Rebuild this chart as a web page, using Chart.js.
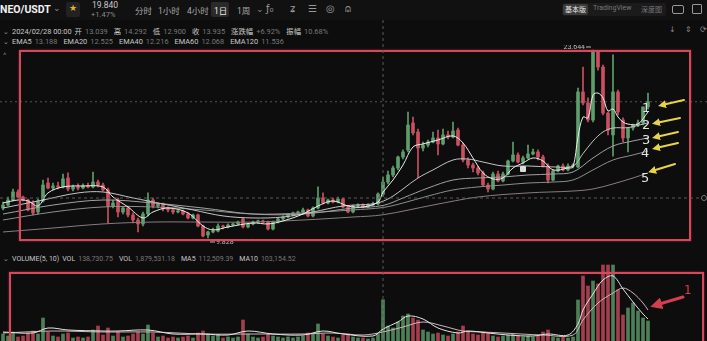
<!DOCTYPE html>
<html lang="zh-CN">
<head>
<meta charset="UTF-8">
<meta name="viewport" content="width=device-width, initial-scale=1.0">
<title>NEO/USDT 1日</title>
<script src="https://cdn.jsdelivr.net/npm/chart.js"></script>
<style>
    body {
        margin: 0;
        width: 707px;
        height: 341px;
        overflow: hidden;
        background: #0d0d0e;
        color: #ccc;
        font-family: Roboto, "Noto Sans CJK SC", sans-serif;
        position: relative;
    }
    .abs { position: absolute; white-space: nowrap; }
    #toolbar { position: absolute; left: 0; top: 0; width: 707px; height: 20px; background: #111112; }
    .tf { position: absolute; top: 4px; font-size: 8.5px; color: #a8a8a8; }
    .icon { position: absolute; top: 3px; font-size: 10px; color: #9a9a9a; font-family: "DejaVu Sans", sans-serif; }
    .row { position: absolute; left: 3px; font-size: 7.4px; white-space: nowrap; }
    .row .k { color: #c8c8c8; margin-right: 3px; }
    .row .v { color: #787878; margin-right: 6px; }
    canvas { position: absolute; left: 0; }
    .box { position: absolute; box-sizing: border-box; border: 2px solid #d8485a; box-shadow: 0 0 2px rgba(220, 70, 90, 0.6); }
</style>
</head>
<body>

<div id="toolbar">
    <div class="abs" style="left:0;top:3px;font-size:10.5px;font-weight:bold;color:#f2f2f2;">NEO/USDT</div>
    <div class="abs" style="left:53px;top:3px;font-size:9px;color:#888;">⌄</div>
    <div class="abs" style="left:66px;top:2px;width:14px;height:15px;background:#222;border-radius:2px;"></div>
    <div class="abs" style="left:69px;top:3px;font-size:9px;color:#e2b325;font-family:'DejaVu Sans';">★</div>
    <div class="abs" style="left:92px;top:0px;font-size:8.5px;color:#c9c9c9;">19.840</div>
    <div class="abs" style="left:91px;top:10px;font-size:7.5px;color:#8a8a8a;">+1.47%</div>
    <div class="tf" style="left:135px;">分时</div>
    <div class="tf" style="left:158px;">1小时</div>
    <div class="tf" style="left:187px;">4小时</div>
    <div class="abs" style="left:211px;top:2px;width:18px;height:15px;background:#2a2a2b;border-radius:2px;"></div>
    <div class="tf" style="left:214px;color:#e6e6e6;">1日</div>
    <div class="tf" style="left:237px;">1周</div>
    <div class="tf" style="left:256px;color:#888;">⌄</div>
    <div class="icon" style="left:266px;">ƒ₀</div>
    <div class="icon" style="left:290px;">ʑ</div>
    <div class="icon" style="left:308px;">☰</div>
    <div class="icon" style="left:326px;">◎</div>
    <div class="icon" style="left:345px;">⍝</div>
    <div class="abs" style="left:562px;top:3px;width:104px;height:13px;background:#1b1b1c;border-radius:2px;"></div>
    <div class="abs" style="left:563px;top:4px;width:25px;height:11px;background:#3b3b3c;border-radius:2px;"></div>
    <div class="abs" style="left:565px;top:4px;font-size:7px;color:#e8e8e8;">基本版</div>
    <div class="abs" style="left:593px;top:4px;font-size:7px;color:#777;">TradingView</div>
    <div class="abs" style="left:641px;top:4px;font-size:7px;color:#777;">深度图</div>
    <div class="abs" style="left:672px;top:5px;width:10px;height:7px;border:1.5px solid #999;border-radius:2px;"></div>
    <div class="abs" style="left:692px;top:4px;width:8px;height:8px;border:1.5px solid #999;border-radius:1px;"></div>
</div>

<div class="row" style="top:25px;">
    <span class="k" style="color:#999;">⌄</span><span class="k">2024/02/28 00:00</span><span class="k">开</span><span class="v">13.039</span><span class="k">高</span><span class="v">14.292</span><span class="k">低</span><span class="v">12.900</span><span class="k">收</span><span class="v">13.935</span><span class="k">涨跌幅</span><span class="v">+6.92%</span><span class="k">振幅</span><span class="v">10.68%</span>
</div>
<div class="row" style="top:37px;">
    <span class="k" style="color:#999;">⌄</span><span class="k">EMA5</span><span class="v">13.188</span><span class="k">EMA20</span><span class="v">12.525</span><span class="k">EMA40</span><span class="v">12.216</span><span class="k">EMA60</span><span class="v">12.068</span><span class="k">EMA120</span><span class="v">11.536</span>
</div>
<div class="abs" style="left:669px;top:25px;font-size:8px;color:#888;font-family:'DejaVu Sans';">↓</div>
<div class="abs" style="left:685px;top:25px;font-size:8px;color:#888;font-family:'DejaVu Sans';">⇕</div>
<div class="abs" style="left:700px;top:25px;font-size:8px;color:#888;font-family:'DejaVu Sans';">⟳</div>
<div class="abs" style="left:3px;top:51px;font-size:8px;color:#777;">^</div>

<canvas id="kline" width="707" height="200" style="top:45px;"></canvas>

<div class="row" style="top:255px;font-size:7px;">
    <span class="k" style="color:#999;">⌄</span><span class="k">VOLUME(5, 10)</span><span class="k">VOL</span><span class="v">138,730.75</span><span class="k">VOL</span><span class="v">1,879,531.18</span><span class="k">MA5</span><span class="v">112,509.39</span><span class="k">MA10</span><span class="v">103,154.52</span>
</div>

<canvas id="vol" width="707" height="84" style="top:262px;"></canvas>

<div class="abs" style="left:520px;top:166px;width:6px;height:6px;background:#dcdcdc;border-radius:1px;"></div>
<div class="box" style="left:19px;top:50px;width:672px;height:191px;"></div>
<div class="box" style="left:9px;top:272px;width:695px;height:80px;"></div>

<svg class="abs" style="left:0;top:0;" width="707" height="341">
    <defs>
        <marker id="yh" markerWidth="4" markerHeight="4" refX="2" refY="2" orient="auto">
            <path d="M0,0 L4,2 L0,4 z" fill="#e6d447"/>
        </marker>
        <marker id="rh" markerWidth="4" markerHeight="4" refX="2" refY="2" orient="auto">
            <path d="M0,0 L4,2 L0,4 z" fill="#d2404f"/>
        </marker>
    </defs>
    <line x1="383" y1="20" x2="383" y2="341" stroke="#5a5a5a" stroke-width="1" stroke-dasharray="3,3"/>
    <line x1="0" y1="198" x2="700" y2="198" stroke="#5a5a5a" stroke-width="1" stroke-dasharray="3,3"/>
    <circle cx="704" cy="198" r="2.5" fill="none" stroke="#777"/>
    <g stroke="#e6d447" stroke-width="2" stroke-linecap="round">
        <line x1="684" y1="100" x2="662" y2="105" marker-end="url(#yh)"/>
        <line x1="680" y1="118" x2="656" y2="123" marker-end="url(#yh)"/>
        <line x1="678" y1="132" x2="656" y2="137" marker-end="url(#yh)"/>
        <line x1="678" y1="143" x2="656" y2="148" marker-end="url(#yh)"/>
        <line x1="675" y1="164" x2="652" y2="171" marker-end="url(#yh)"/>
    </g>
    <g fill="#e2e2e2" font-size="13" font-family="DejaVu Sans">
        <text x="642" y="112">1</text>
        <text x="642" y="129">2</text>
        <text x="642" y="144">3</text>
        <text x="641" y="157">4</text>
        <text x="641" y="182">5</text>
    </g>
    <line x1="683" y1="297" x2="656" y2="305" stroke="#d2404f" stroke-width="3" stroke-linecap="round" marker-end="url(#rh)"/>
    <text x="684" y="294" fill="#d2404f" font-size="12" font-family="DejaVu Sans">1</text>
</svg>

<script>
    // candles, one per day, index 76 = 2024/02/28
    const open = [12.03, 12.25, 12.62, 13.21, 12.84, 12.62, 12.40, 11.74, 12.55, 13.87,
        13.50, 13.65, 13.58, 14.24, 13.43, 13.58, 13.50, 13.65, 13.58, 13.94,
        13.72, 13.36, 12.18, 12.62, 11.74, 12.03, 11.52, 11.15, 10.86, 11.59,
        12.62, 12.18, 12.33, 11.96, 11.89, 11.74, 11.81, 11.59, 11.30, 11.52,
        10.71, 10.05, 10.27, 10.34, 10.71, 10.64, 10.78, 10.86, 11.23, 10.64,
        10.86, 11.00, 11.08, 11.00, 10.49, 11.00, 11.23, 11.37, 11.52, 11.67,
        11.74, 11.89, 11.45, 12.03, 12.77, 12.40, 12.62, 12.47, 12.69, 12.11,
        11.74, 12.18, 12.25, 12.11, 12.25, 12.33, 13.039, 13.94, 14.46, 14.97,
        15.78, 16.30, 18.28, 17.62, 16.44, 16.66, 16.88, 17.18, 16.74, 17.40,
        17.25, 17.76, 16.66, 15.56, 15.19, 14.97, 14.61, 13.72, 13.43, 14.53,
        14.02, 14.53, 15.49, 15.93, 15.41, 15.71, 16.00, 16.15, 15.78, 15.12,
        14.09, 14.75, 15.12, 14.83, 15.12, 15.05, 20.56, 19.75, 18.50, 23.50,
        22.39, 19.01, 17.40, 20.56, 18.50, 17.18, 17.91, 18.13, 18.28, 19.46];
    const high = [12.47, 12.84, 13.43, 13.36, 12.91, 12.69, 12.55, 12.69, 14.09, 14.24,
        13.87, 13.94, 14.53, 14.61, 13.72, 13.80, 13.80, 13.87, 14.68, 14.09,
        13.87, 13.50, 12.62, 12.77, 12.11, 12.18, 11.67, 11.30, 11.74, 13.14,
        12.77, 12.40, 12.40, 12.11, 11.96, 11.89, 11.89, 11.67, 11.59, 11.59,
        10.78, 10.34, 10.56, 10.86, 10.78, 10.86, 10.93, 11.08, 11.30, 10.93,
        11.08, 11.15, 11.15, 11.08, 11.08, 11.30, 11.45, 11.59, 11.74, 11.81,
        12.03, 11.96, 12.11, 13.58, 13.14, 12.69, 12.77, 12.84, 12.77, 12.18,
        12.25, 12.33, 12.33, 12.33, 12.47, 13.14, 14.292, 14.75, 15.12, 15.85,
        16.30, 19.09, 18.72, 17.84, 16.88, 17.03, 17.62, 17.76, 17.84, 17.69,
        18.35, 17.91, 16.81, 15.71, 15.34, 15.12, 14.75, 13.87, 14.68, 14.75,
        14.68, 15.56, 16.88, 16.08, 15.85, 16.66, 16.37, 16.30, 15.93, 15.27,
        14.83, 15.19, 15.27, 15.27, 15.27, 20.85, 22.39, 20.12, 23.644, 23.60,
        22.54, 19.09, 23.28, 20.70, 18.65, 17.91, 18.20, 18.50, 19.46, 20.48];
    const low = [11.89, 12.18, 12.55, 12.77, 12.55, 11.81, 11.52, 11.59, 12.47, 13.43,
        13.36, 13.43, 13.50, 13.28, 13.28, 13.36, 13.43, 13.50, 13.50, 13.58,
        13.28, 10.93, 12.03, 11.37, 11.59, 11.37, 10.93, 10.27, 10.71, 11.45,
        12.03, 12.03, 11.81, 11.74, 11.59, 11.67, 11.52, 11.23, 11.23, 10.64,
        9.90, 9.828, 10.20, 10.27, 10.49, 10.56, 10.71, 10.78, 10.56, 10.56,
        10.78, 10.93, 10.93, 10.42, 10.42, 10.93, 11.15, 11.30, 11.45, 11.59,
        11.67, 11.37, 11.37, 11.96, 12.33, 12.33, 12.40, 12.40, 12.03, 11.67,
        11.67, 12.11, 12.03, 12.03, 12.18, 12.25, 12.900, 13.80, 14.31, 14.83,
        15.63, 16.15, 17.40, 14.24, 16.22, 16.52, 16.81, 15.93, 16.66, 17.10,
        17.18, 16.59, 15.41, 14.97, 14.68, 14.46, 13.65, 13.21, 13.36, 13.94,
        13.94, 14.46, 15.41, 15.34, 15.27, 15.63, 15.93, 15.56, 15.05, 13.87,
        14.02, 14.68, 14.75, 14.75, 14.97, 14.97, 19.60, 18.35, 18.35, 22.17,
        18.87, 17.40, 15.85, 18.87, 16.88, 16.15, 17.76, 18.00, 18.13, 19.30];
    const close = [12.25, 12.62, 13.21, 12.84, 12.62, 11.89, 11.67, 12.55, 13.72, 13.50,
        13.65, 13.58, 14.17, 13.43, 13.58, 13.50, 13.65, 13.58, 13.94, 13.72,
        13.36, 12.18, 12.40, 11.74, 12.03, 11.52, 11.15, 10.86, 11.59, 12.62,
        12.18, 12.33, 11.96, 11.89, 11.74, 11.81, 11.59, 11.30, 11.52, 10.71,
        9.98, 10.27, 10.34, 10.71, 10.64, 10.78, 10.86, 11.00, 10.64, 10.86,
        11.00, 11.08, 11.00, 10.49, 11.00, 11.23, 11.37, 11.52, 11.67, 11.74,
        11.89, 11.45, 12.03, 12.77, 12.40, 12.62, 12.47, 12.69, 12.11, 11.74,
        12.18, 12.25, 12.11, 12.25, 12.33, 13.06, 13.935, 14.46, 14.97, 15.78,
        16.15, 18.13, 17.55, 16.44, 16.66, 16.88, 17.18, 16.74, 17.40, 17.25,
        17.69, 16.66, 15.56, 15.19, 14.97, 14.61, 13.72, 13.43, 14.53, 14.02,
        14.53, 15.49, 15.93, 15.41, 15.71, 16.00, 16.15, 15.78, 15.12, 14.09,
        14.75, 15.12, 14.83, 15.12, 15.19, 20.56, 19.75, 18.50, 23.50, 22.39,
        19.01, 17.76, 20.56, 19.09, 17.18, 17.91, 18.13, 18.28, 19.46, 19.84];
    const volume = [36000, 30000, 42000, 27000, 30000, 39000, 45000, 36000, 84000, 42000,
        30000, 27000, 36000, 39000, 24000, 27000, 24000, 27000, 48000, 60000,
        33000, 54000, 30000, 42000, 27000, 30000, 36000, 42000, 36000, 63000,
        39000, 27000, 30000, 24000, 27000, 24000, 27000, 30000, 24000, 39000,
        45000, 36000, 30000, 33000, 24000, 27000, 24000, 27000, 78000, 36000,
        27000, 24000, 27000, 36000, 30000, 27000, 24000, 27000, 24000, 27000,
        30000, 39000, 36000, 66000, 36000, 30000, 27000, 24000, 33000, 36000,
        27000, 24000, 24000, 21000, 24000, 36000, 138730.75, 60000, 54000, 72000,
        90000, 96000, 84000, 78000, 48000, 42000, 36000, 39000, 33000, 30000,
        36000, 42000, 60000, 45000, 36000, 33000, 42000, 39000, 30000, 27000,
        30000, 33000, 36000, 30000, 27000, 30000, 27000, 30000, 42000, 48000,
        27000, 24000, 27000, 24000, 27000, 138000, 210000, 180000, 195000, 186000,
        243000, 243000, 243000, 168000, 93000, 114000, 129000, 105000, 84000, 75000];

    // moving averages: [candle index, value]
    const ema5 = [[0, 12.40], [3, 12.62], [5, 12.55], [7, 12.18], [9, 13.14], [12, 13.58], [16, 13.65],
        [20, 13.58], [22, 12.84], [25, 12.11], [28, 11.30], [30, 11.74], [33, 12.03], [37, 11.67],
        [40, 10.71], [42, 10.42], [45, 10.64], [50, 10.93], [53, 10.86], [56, 11.08], [60, 11.59],
        [63, 12.18], [66, 12.55], [69, 12.18], [72, 12.11], [75, 12.47], [76, 13.188], [78, 14.09],
        [80, 15.19], [82, 16.52], [84, 16.74], [87, 17.03], [90, 17.33], [92, 16.81], [94, 15.71],
        [96, 14.61], [98, 14.17], [100, 14.24], [102, 14.97], [104, 15.34], [106, 15.71], [108, 15.49],
        [110, 14.83], [113, 14.97], [114, 15.05], [115, 17.25], [116, 18.72], [117, 18.65], [118, 20.34],
        [119, 20.48], [120, 20.12], [121, 19.16], [122, 19.31], [123, 18.72], [124, 18.35], [125, 18.20],
        [127, 18.20], [129, 19.09]];
    const ema20 = [[0, 12.03], [8, 12.62], [15, 13.14], [20, 13.21], [26, 12.77], [32, 12.33], [38, 11.89],
        [44, 11.45], [50, 11.30], [56, 11.37], [62, 11.74], [68, 12.18], [74, 12.33], [76, 12.525],
        [78, 12.91], [80, 13.43], [83, 14.24], [86, 14.83], [90, 15.56], [93, 15.63], [96, 15.41],
        [100, 15.12], [105, 15.12], [110, 15.05], [114, 15.12], [116, 16.03], [118, 16.95], [120, 17.62],
        [122, 17.91], [125, 17.94], [129, 18.29]];
    const ema40 = [[0, 11.59], [10, 12.25], [20, 12.62], [30, 12.40], [40, 12.03], [50, 11.59], [60, 11.59],
        [70, 12.03], [76, 12.216], [80, 12.77], [85, 13.50], [90, 14.09], [95, 14.24], [100, 14.31],
        [105, 14.46], [110, 14.53], [114, 14.68], [118, 15.71], [122, 16.59], [126, 16.96], [129, 17.18]];
    const ema60 = [[0, 11.15], [10, 11.74], [20, 12.11], [30, 12.11], [40, 11.89], [50, 11.59], [60, 11.67],
        [70, 11.89], [76, 12.068], [80, 12.40], [85, 12.91], [90, 13.36], [95, 13.58], [100, 13.72],
        [105, 13.87], [110, 13.94], [114, 14.09], [118, 14.83], [122, 15.56], [126, 15.93], [129, 16.22]];
    const ema120 = [[0, 10.27], [10, 10.56], [20, 10.86], [30, 11.00], [40, 11.00], [50, 11.00], [60, 11.15],
        [70, 11.37], [76, 11.536], [86, 12.25], [95, 12.84], [105, 13.14], [114, 13.28], [118, 13.43],
        [122, 13.80], [126, 14.24], [129, 14.61]];
    const volMa5 = [[0, 42000], [6, 39000], [9, 54000], [13, 48000], [20, 45000], [23, 45000], [29, 48000],
        [34, 36000], [40, 36000], [45, 33000], [49, 45000], [54, 36000], [60, 33000], [64, 45000],
        [68, 36000], [74, 30000], [76, 51000], [79, 72000], [81, 90000], [84, 81000], [87, 54000],
        [91, 39000], [93, 45000], [97, 39000], [101, 33000], [106, 30000], [109, 36000], [113, 33000],
        [115, 66000], [116, 108000], [118, 156000], [120, 198000], [122, 210000], [124, 171000],
        [126, 132000], [128, 96000], [129, 81000]];
    const volMa10 = [[0, 39000], [10, 45000], [20, 42000], [30, 42000], [40, 36000], [50, 36000], [60, 36000],
        [66, 39000], [72, 33000], [76, 42000], [80, 57000], [84, 72000], [88, 60000], [92, 45000],
        [96, 42000], [100, 39000], [108, 33000], [114, 33000], [116, 78000], [119, 129000], [122, 159000],
        [124, 174000], [126, 159000], [128, 129000], [129, 108000]];

    const UP = '#5d9e6c';
    const DOWN = '#c9505f';
    const xAxis = () => ({ type: 'linear', display: false, offset: false, min: -0.6, max: 140.8 });

    const isUp = close.map((c, i) => c >= open[i]);
    const candleColor = isUp.map(u => u ? UP : DOWN);
    const volColor = isUp.map(u => u ? 'rgba(84,140,98,0.9)' : 'rgba(178,68,84,0.9)');
    const pts = arr => arr.map(p => ({ x: p[0], y: p[1] }));

    function emaLine(arr, color) {
        return {
            type: 'line', data: pts(arr), borderColor: color, borderWidth: 1,
            pointRadius: 0, tension: 0.35, order: 0
        };
    }

    // last price line and high / low labels
    const klineMarks = {
        id: 'klineMarks',
        beforeDatasetsDraw(chart) {
            const { ctx, scales: { y } } = chart;
            const ly = y.getPixelForValue(close[close.length - 1]);
            ctx.save();
            ctx.strokeStyle = '#555';
            ctx.setLineDash([2, 3]);
            ctx.beginPath();
            ctx.moveTo(0, ly);
            ctx.lineTo(chart.width, ly);
            ctx.stroke();
            ctx.restore();
        },
        afterDatasetsDraw(chart) {
            const { ctx, scales: { x, y } } = chart;
            const hi = high.indexOf(Math.max(...high));
            const lo = low.indexOf(Math.min(...low));
            ctx.save();
            ctx.font = '7px Roboto';
            ctx.fillStyle = '#bdbdbd';
            ctx.strokeStyle = '#bdbdbd';
            ctx.textBaseline = 'middle';
            let px = x.getPixelForValue(hi), py = y.getPixelForValue(high[hi]) - 3;
            ctx.textAlign = 'right';
            ctx.fillText(high[hi].toFixed(3), px - 8, py);
            ctx.beginPath(); ctx.moveTo(px - 7, py); ctx.lineTo(px - 2, py); ctx.stroke();
            px = x.getPixelForValue(lo); py = y.getPixelForValue(low[lo]) + 4;
            ctx.textAlign = 'left';
            ctx.fillText(low[lo].toFixed(3), px + 8, py);
            ctx.beginPath(); ctx.moveTo(px + 2, py); ctx.lineTo(px + 7, py); ctx.stroke();
            ctx.restore();
        }
    };

    new Chart(document.getElementById('kline'), {
        type: 'bar',
        data: {
            datasets: [
                emaLine(ema5, '#ededed'),
                emaLine(ema20, '#c4c4c4'),
                emaLine(ema40, '#a2a2a2'),
                emaLine(ema60, '#8e8e8e'),
                emaLine(ema120, '#8a7c7e'),
                {
                    data: open.map((o, i) => ({ x: i, y: [o, close[i]] })),
                    backgroundColor: candleColor, barThickness: 3, minBarLength: 1,
                    grouped: false, order: 1
                },
                {
                    data: open.map((o, i) => ({ x: i, y: [low[i], high[i]] })),
                    backgroundColor: candleColor, barThickness: 1,
                    grouped: false, order: 2
                }
            ]
        },
        options: {
            responsive: false,
            animation: false,
            devicePixelRatio: 1,
            layout: { padding: 0 },
            plugins: { legend: { display: false }, tooltip: { enabled: false } },
            scales: {
                x: xAxis(),
                y: { display: false, min: 9.313, max: 24.011 }
            }
        },
        plugins: [klineMarks]
    });

    new Chart(document.getElementById('vol'), {
        type: 'bar',
        data: {
            datasets: [
                { type: 'line', data: pts(volMa5), borderColor: '#e4e4e4', borderWidth: 1, pointRadius: 0, tension: 0.35, order: 0 },
                { type: 'line', data: pts(volMa10), borderColor: '#cdb6b8', borderWidth: 1, pointRadius: 0, tension: 0.35, order: 0 },
                {
                    data: volume.map((v, i) => ({ x: i, y: v })),
                    backgroundColor: volColor, barThickness: 3, grouped: false, order: 1
                }
            ]
        },
        options: {
            responsive: false,
            animation: false,
            devicePixelRatio: 1,
            layout: { padding: 0 },
            plugins: { legend: { display: false }, tooltip: { enabled: false } },
            scales: {
                x: xAxis(),
                y: { display: false, min: 0, max: 252000 }
            }
        }
    });
</script>

</body>
</html>
